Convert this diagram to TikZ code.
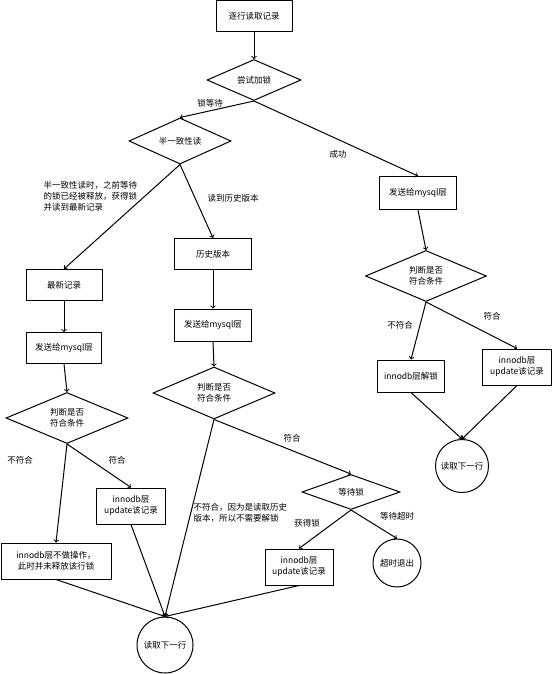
\documentclass[tikz,border=0pt]{standalone}
\usepackage{fontspec}
\setmainfont{Noto Sans CJK SC}
\usetikzlibrary{shapes.geometric}

\begin{document}
\begin{tikzpicture}[x=1pt,y=-1pt,line width=1pt,
every node/.style={font=\fontsize{8.5}{11}\selectfont},
box/.style={draw,rectangle,inner sep=0pt,align=center},
cond/.style={draw,diamond,inner sep=0pt,aspect=2.4,align=center},
rnd/.style={draw,circle,inner sep=0pt},
lbl/.style={inner sep=0pt}]
%\tikzstyle{every path}=[->]
\useasboundingbox (0,0) rectangle (554,674);

\node[box,minimum width=76pt,minimum height=31pt] (start) at (254,16.5) {逐行读取记录};
\node[cond,minimum width=94pt,minimum height=41pt] (lock) at (254,80) {尝试加锁};
\node[cond,minimum width=102pt,minimum height=46pt] (semi) at (180,141) {半一致性读};

\node[box,minimum width=77pt,minimum height=33pt] (sendR) at (418,193) {发送给mysql层};
\node[cond,minimum width=121pt,minimum height=51pt] (judgeR) at (426,276) {判断是否\\符合条件};
\node[box,minimum width=67pt,minimum height=32pt] (unlock) at (411,376) {innodb层解锁};
\node[box,minimum width=69pt,minimum height=36pt] (updR) at (517,367) {innodb层\\update该记录};
\node[rnd,minimum size=53pt] (nextR) at (462,466) {读取下一行};

\node[box,minimum width=76pt,minimum height=31pt] (newest) at (64,285) {最新记录};
\node[box,minimum width=75pt,minimum height=31pt] (sendL) at (64,348) {发送给mysql层};
\node[cond,minimum width=122pt,minimum height=51pt] (judgeL) at (67,418) {判断是否\\符合条件};
\node[box,minimum width=110pt,minimum height=36pt] (noop) at (56,561) {innodb层不做操作，\\此时并未释放该行锁};
\node[box,minimum width=69pt,minimum height=36pt] (updL) at (131,506) {innodb层\\update该记录};
\node[rnd,minimum size=56pt] (nextL) at (165,645) {读取下一行};

\node[box,minimum width=77pt,minimum height=31pt] (hist) at (213,254) {历史版本};
\node[box,minimum width=77pt,minimum height=32pt] (sendM) at (213,325) {发送给mysql层};
\node[cond,minimum width=122pt,minimum height=52pt] (judgeM) at (214,393) {判断是否\\符合条件};
\node[cond,minimum width=98pt,minimum height=35pt] (wait) at (351,492) {等待锁};
\node[box,minimum width=68pt,minimum height=36pt] (updM) at (299,567) {innodb层\\update该记录};
\node[rnd,minimum size=48pt] (timeout) at (397,563) {超时退出};

\node[lbl] (lWait) at (210,103) {锁等待};
\node[lbl] (lOk) at (338,154) {成功};
\node[lbl,anchor=west,align=left] (lNew) at (43,196) {半一致性读时，之前等待\\的锁已经被释放，获得锁\\并读到最新记录};
\node[lbl] (lHist) at (233,198) {读到历史版本};
\node[lbl] (lNoR) at (400,325) {不符合};
\node[lbl] (lYesR) at (492,316) {符合};
\node[lbl] (lNoL) at (20,460) {不符合};
\node[lbl] (lYesL) at (117,460) {符合};
\node[lbl] (lYesM) at (292,438) {符合};
\node[lbl,anchor=west,align=left] (lNoM) at (193,512.5) {不符合，因为是读取历史\\版本，所以不需要解锁};
\node[lbl] (lGot) at (307,523) {获得锁};
\node[lbl] (lOut) at (397,516) {等待超时};

\draw[->] (start.south) -- (lock.north);
\draw[->] (lock.south) -- (semi.north);
\draw[->] (lock.south) -- (sendR.north);
\draw[->] (semi.south) -- (newest.north);
\draw[->] (semi.south) -- (hist.north);

\draw[->] (sendR.south) -- (judgeR.north);
\draw[->] (judgeR.south) -- (unlock.north);
\draw[->] (judgeR.south) -- (updR.north);
\draw[->] (unlock.south) -- (nextR.north);
\draw[->] (updR.south) -- (nextR.north);

\draw[->] (newest.south) -- (sendL.north);
\draw[->] (sendL.south) -- (judgeL.north);
\draw[->] (judgeL.south) -- (noop.north);
\draw[->] (judgeL.south) -- (updL.north);
\draw[->] (noop.south) -- (nextL.north);
\draw[->] (updL.south) -- (nextL.north);

\draw[->] (hist.south) -- (sendM.north);
\draw[->] (sendM.south) -- (judgeM.north);
\draw[->] (judgeM.south) -- (nextL.north);
\draw[->] (judgeM.south) -- (wait.north);
\draw[->] (wait.south) -- (updM.north);
\draw[->] (wait.south) -- (timeout.north);
\draw[->] (updM.south) -- (nextL.north);
\end{tikzpicture}
\end{document}
